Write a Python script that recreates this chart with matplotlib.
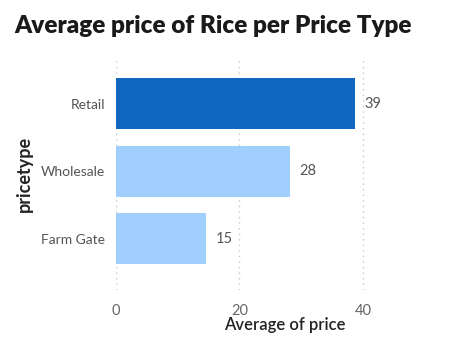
import matplotlib.pyplot as plt

categories = ["Retail", "Wholesale", "Farm Gate"]
avg_price = [38.7, 28.2, 14.6]
bar_colors = ["#1167c0", "#a0cffe", "#a0cffe"]
xticks = [0, 20, 40]

plt.rcParams["font.family"] = ["Lato", "DejaVu Sans"]

fig = plt.figure(figsize=(4.74, 3.5), dpi=100)
ax = fig.add_axes([0.2447, 0.171, 0.586, 0.666])

ypos = list(range(len(categories)))
ax.barh(ypos, avg_price, height=0.755, color=bar_colors, zorder=2)
for y, v in zip(ypos, avg_price):
    ax.text(v + 1.5, y, f"{v:.0f}", va="center", ha="left", fontsize=10.5, color="#555555")

ax.set_xlim(0, 45)
ax.set_ylim(2.76, -0.69)
ax.set_yticks(ypos)
ax.set_yticklabels(categories, fontsize=10, color="#555555")
ax.set_xticks(xticks)
ax.set_xticklabels([str(t) for t in xticks], fontsize=10.5, color="#666666")
ax.tick_params(length=0, pad=10)
ax.tick_params(axis="y", pad=8)

for s in ax.spines.values():
    s.set_visible(False)
ax.grid(axis="x", color="#c8c8c8", linestyle=(0, (1, 3)), linewidth=1, zorder=0)

ax.set_xlabel("Average of price", fontsize=12, color="#222222", fontweight="semibold")
ax.xaxis.set_label_coords(0.608, -0.115)
ax.set_ylabel("pricetype", fontsize=13, color="#222222", fontweight="bold")
ax.yaxis.set_label_coords(-0.30, 0.5)

fig.text(0.03, 0.925, "Average price of Rice per Price Type", fontsize=17.5,
         fontweight="heavy", color="#1a1a1a", ha="left", va="center")

fig.savefig("out.png", dpi=100)
